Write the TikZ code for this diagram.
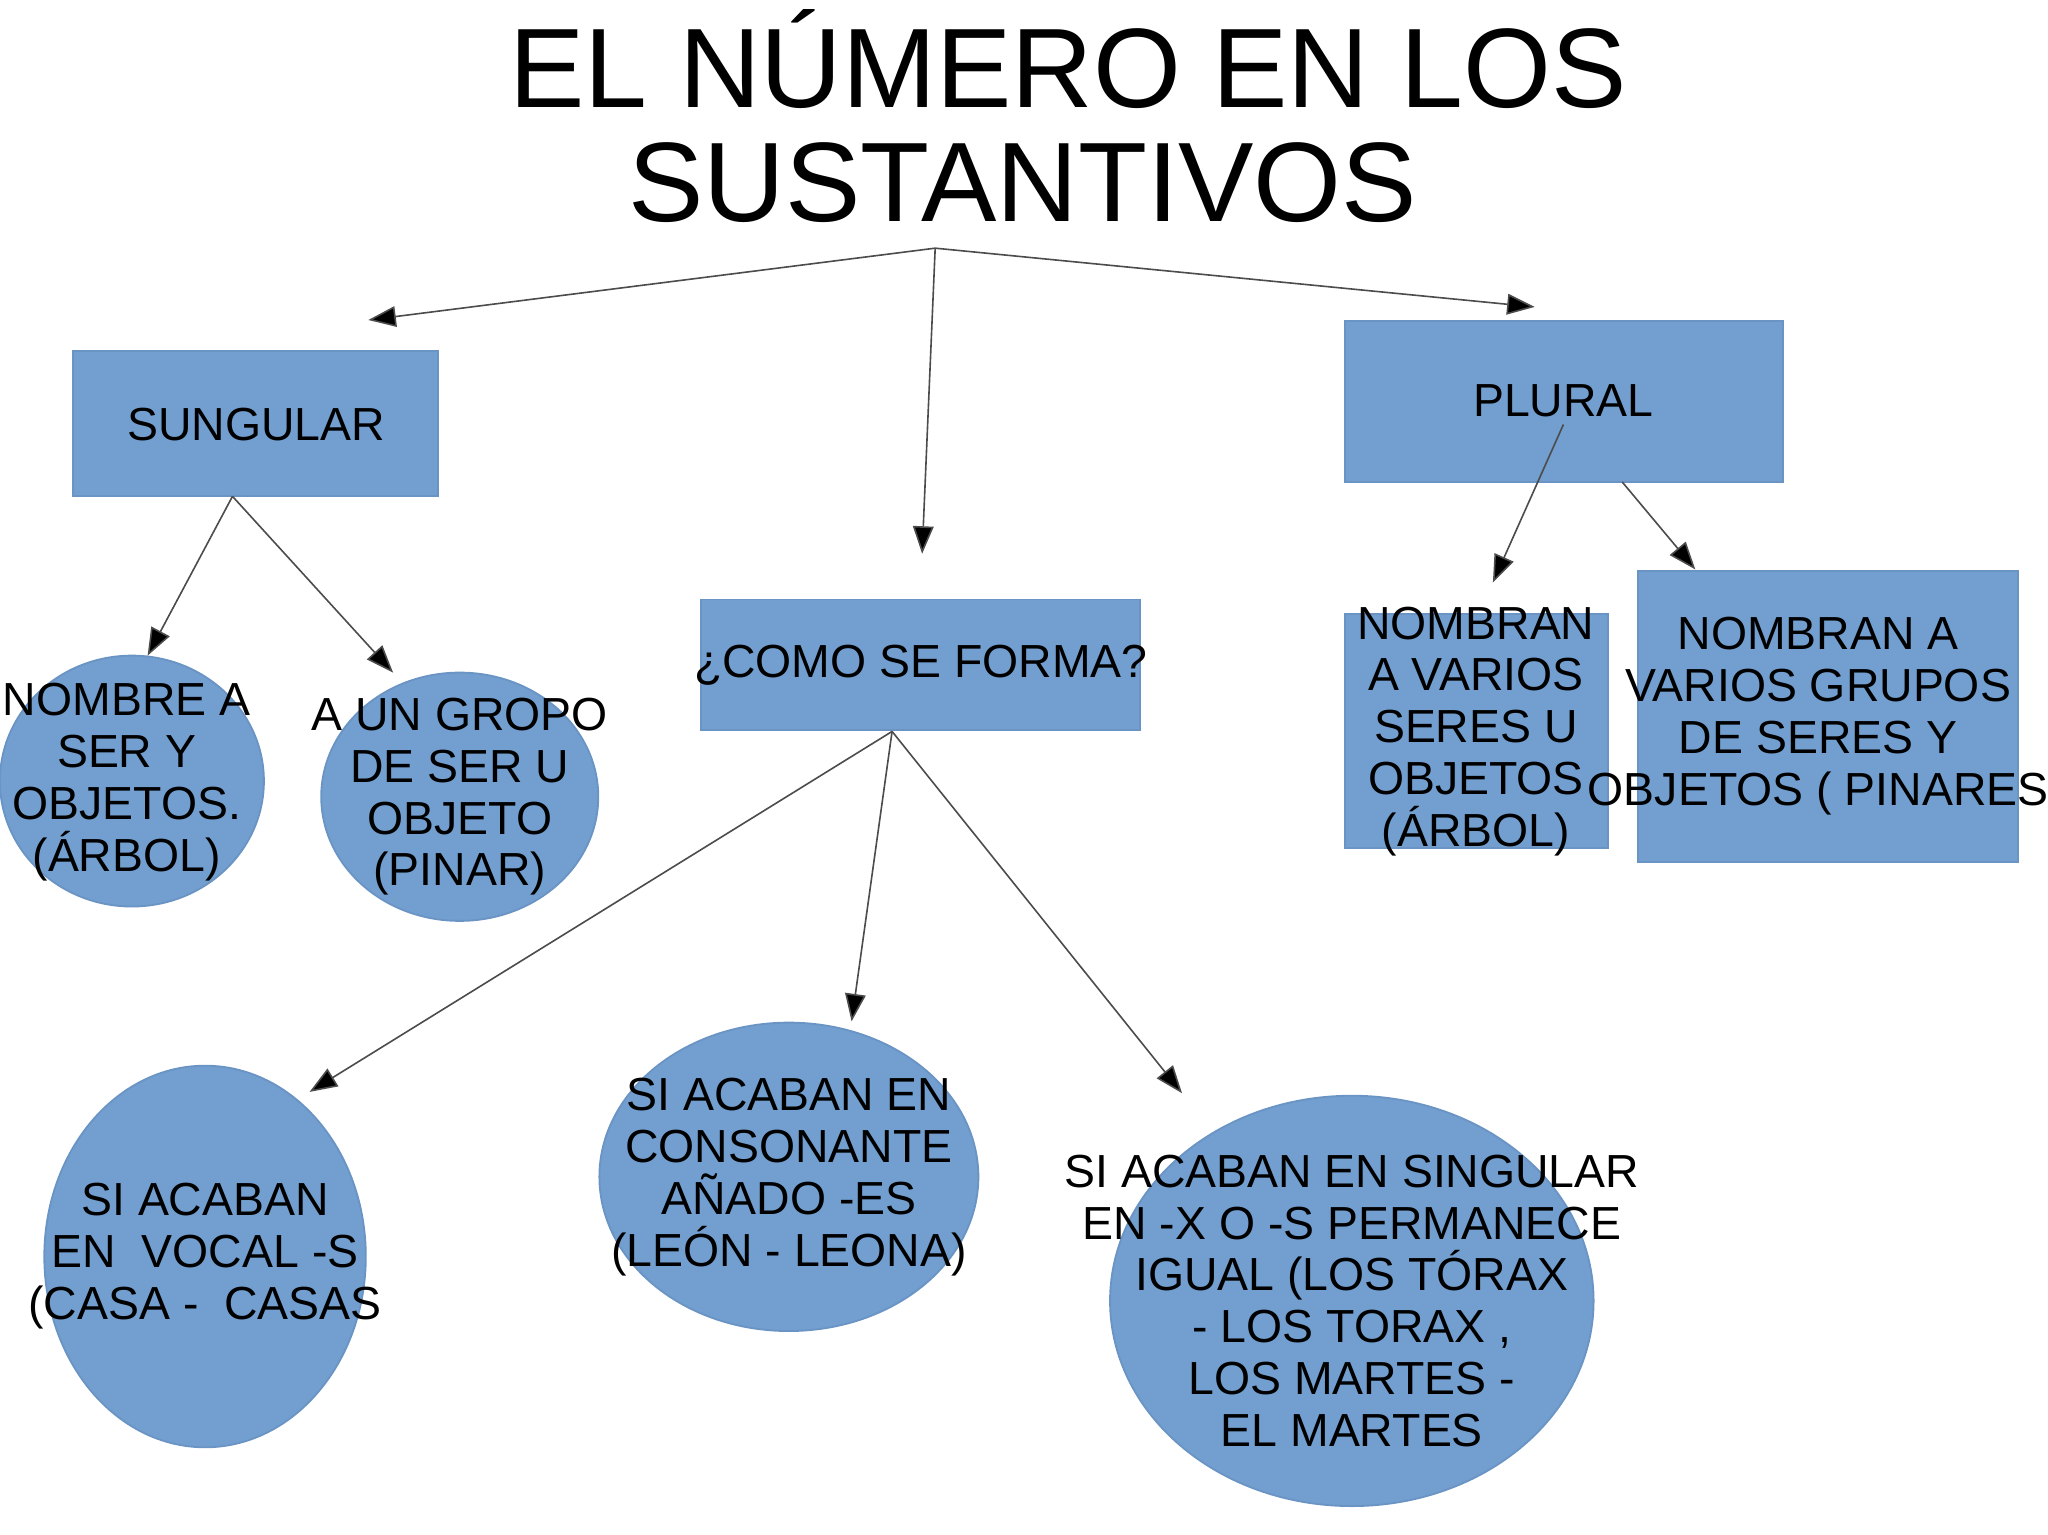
\documentclass[tikz,border=0pt]{standalone}
\usepackage{fontspec}
\setmainfont{Liberation Sans}
\usetikzlibrary{shapes.geometric,arrows.meta}
\definecolor{boxblue}{HTML}{729FCF}
\definecolor{boxline}{HTML}{6A94C4}
\begin{document}
\begin{tikzpicture}[x=0.01cm,y=-0.01cm,
  box/.style={draw=boxline,fill=boxblue,inner sep=0pt},
  ell/.style={draw=boxline,fill=boxblue,ellipse,inner sep=0pt},
  txt/.style={align=center,font=\fontsize{10.1}{11.3}\selectfont,inner sep=0pt},
  arr/.style={draw=black!70,line width=0.35pt,-{Triangle[length=6pt,width=4.5pt,fill=black]}}]
\useasboundingbox (0,0) rectangle (1568,1175);
% title
\node[font=\fontsize{24.6}{27}\selectfont] (t1) at (818,45) {EL NÚMERO EN LOS};
\node[font=\fontsize{24.6}{27}\selectfont] (t2) at (783,140) {SUSTANTIVOS};
% boxes
\node[box,minimum width=2.79cm,minimum height=1.11cm] (sing) at (195.5,324.5) {};
\node[txt] at (196,325) {SUNGULAR};
\node[box,minimum width=3.35cm,minimum height=1.23cm] (plur) at (1197.5,307.5) {};
\node[txt] at (1197,307) {PLURAL};
\node[box,minimum width=3.36cm,minimum height=1.00cm] (como) at (705,509) {};
\node[txt] at (705,509) {¿COMO SE FORMA?};
\node[box,minimum width=2.01cm,minimum height=1.79cm] (nv) at (1130.5,559.5) {};
\node[txt] at (1130,560) {NOMBRAN\\A VARIOS\\SERES U\\OBJETOS\\(ÁRBOL)};
\node[box,minimum width=2.91cm,minimum height=2.23cm] (ng) at (1399.5,548.5) {};
\node[txt] at (1392,548) {NOMBRAN A\\VARIOS GRUPOS\\DE SERES Y\\OBJETOS ( PINARES};
% ellipses
\node[ell,minimum width=2.02cm,minimum height=1.92cm] (e1) at (101,598) {};
\node[txt] at (97,599) {NOMBRE A\\SER Y\\OBJETOS.\\(ÁRBOL)};
\node[ell,minimum width=2.12cm,minimum height=1.90cm] (e2) at (352,610) {};
\node[txt] at (352,610) {A UN GROPO\\DE SER U\\OBJETO\\(PINAR)};
\node[ell,minimum width=2.46cm,minimum height=2.92cm] (e3) at (157,962) {};
\node[txt] at (157,962) {SI ACABAN\\EN\ \ VOCAL -S\\(CASA -\ \ CASAS};
\node[ell,minimum width=2.90cm,minimum height=2.36cm] (e4) at (604,901) {};
\node[txt] at (604,901) {SI ACABAN EN\\CONSONANTE\\AÑADO -ES\\(LEÓN - LEONA)};
\node[ell,minimum width=3.70cm,minimum height=3.14cm] (e5) at (1035,996) {};
\node[txt] at (1035,996) {SI ACABAN EN SINGULAR\\EN -X O -S PERMANECE\\IGUAL (LOS TÓRAX\\- LOS TORAX ,\\LOS MARTES -\\EL MARTES};
% connector points
\coordinate (ts) at (716,190);
\coordinate (a1) at (282,245);
\coordinate (a2) at (706,424);
\coordinate (a3) at (1175,235);
\coordinate (ss) at (178,380);
\coordinate (b1) at (113,502);
\coordinate (b2) at (301,515);
\coordinate (ps1) at (1197,325);
\coordinate (ps2) at (1242,369);
\coordinate (c1) at (1143,446);
\coordinate (c2) at (1298,436);
\coordinate (cs) at (683,560);
\coordinate (d1) at (237,836);
\coordinate (d2) at (652,782);
\coordinate (d3) at (905,837);
\draw[arr] (ts) -- (a1);
\draw[arr] (ts) -- (a2);
\draw[arr] (ts) -- (a3);
\draw[arr] (ss) -- (b1);
\draw[arr] (ss) -- (b2);
\draw[arr] (ps1) -- (c1);
\draw[arr] (ps2) -- (c2);
\draw[arr] (cs) -- (d1);
\draw[arr] (cs) -- (d2);
\draw[arr] (cs) -- (d3);
\end{tikzpicture}
\end{document}
